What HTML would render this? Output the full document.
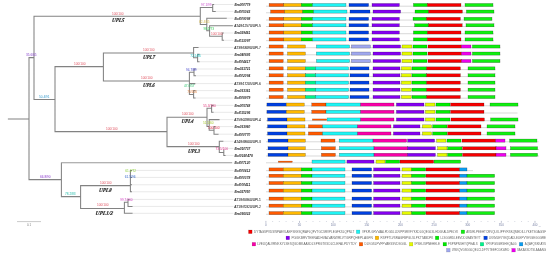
<!DOCTYPE html><html><head><meta charset="utf-8"><style>html,body{margin:0;padding:0;background:#fff;width:550px;height:255px;overflow:hidden}svg{display:block;will-change:transform}</style></head><body>
<svg width="550" height="255" viewBox="0 0 550 255">
<rect width="550" height="255" fill="#fff"/>
<g stroke="#e9e9e9" stroke-width="1.0">
<line x1="213.6" y1="4.5" x2="233.4" y2="4.5"/>
<line x1="215.2" y1="11.4" x2="233.4" y2="11.4"/>
<line x1="226.2" y1="18.2" x2="233.4" y2="18.2"/>
<line x1="232.3" y1="25.7" x2="233.4" y2="25.7"/>
<line x1="223.2" y1="33.0" x2="233.4" y2="33.0"/>
<line x1="223.4" y1="40.3" x2="233.4" y2="40.3"/>
<line x1="198" y1="47.4" x2="233.4" y2="47.4"/>
<line x1="199" y1="54.35" x2="233.4" y2="54.35"/>
<line x1="199" y1="61.75" x2="233.4" y2="61.75"/>
<line x1="195" y1="69.0" x2="233.4" y2="69.0"/>
<line x1="195.5" y1="75.8" x2="233.4" y2="75.8"/>
<line x1="194.8" y1="83.6" x2="233.4" y2="83.6"/>
<line x1="195" y1="90.6" x2="233.4" y2="90.6"/>
<line x1="195" y1="98.0" x2="233.4" y2="98.0"/>
<line x1="213" y1="105.35" x2="233.4" y2="105.35"/>
<line x1="213" y1="112.3" x2="233.4" y2="112.3"/>
<line x1="219" y1="119.6" x2="233.4" y2="119.6"/>
<line x1="217.5" y1="126.6" x2="233.4" y2="126.6"/>
<line x1="218" y1="134.2" x2="233.4" y2="134.2"/>
<line x1="222.8" y1="141.3" x2="233.4" y2="141.3"/>
<line x1="225" y1="148.4" x2="233.4" y2="148.4"/>
<line x1="225" y1="155.4" x2="233.4" y2="155.4"/>
<line x1="232" y1="162.8" x2="233.4" y2="162.8"/>
<line x1="131.5" y1="170.4" x2="233.4" y2="170.4"/>
<line x1="131.5" y1="177.4" x2="233.4" y2="177.4"/>
<line x1="131.5" y1="184.8" x2="233.4" y2="184.8"/>
<line x1="131.5" y1="191.8" x2="233.4" y2="191.8"/>
<line x1="129" y1="199.4" x2="233.4" y2="199.4"/>
<line x1="132" y1="206.4" x2="233.4" y2="206.4"/>
<line x1="132" y1="213.3" x2="233.4" y2="213.3"/>
</g>
<g stroke="#828282" stroke-width="1.05" stroke-linecap="square" fill="none">
<path d="M8.40 119.00L29.00 119.00M29.00 57.60L29.00 179.60M29.00 57.60L34.00 57.60M34.00 16.30L34.00 99.40M34.00 16.30L200.30 16.30M34.00 99.40L55.00 99.40M55.00 66.60L55.00 131.60M55.00 66.60L103.40 66.60M103.40 53.00L103.40 81.00M103.40 53.00L193.60 53.00M103.40 81.00L189.40 81.00M55.00 131.60L167.00 131.60M167.00 117.20L167.00 146.80M167.00 117.20L207.00 117.20M167.00 146.60L219.30 146.60M29.00 179.60L61.40 179.60M61.40 163.00L61.40 196.60M61.40 196.60L80.60 196.60M80.60 185.60L80.60 208.40M80.60 185.60L130.40 185.60M80.60 208.40L124.40 208.40M200.30 7.40L200.30 24.50M200.30 7.40L212.70 7.40M212.70 4.50L212.70 11.40M212.70 4.50L213.60 4.50M212.70 11.40L215.20 11.40M200.30 24.50L206.80 24.50M206.80 18.20L206.80 30.80M206.80 18.20L226.20 18.20M206.80 30.80L209.60 30.80M209.60 25.70L209.60 36.30M209.60 25.70L232.30 25.70M209.60 36.30L222.20 36.30M222.20 33.00L222.20 40.30M222.20 33.00L223.20 33.00M222.20 40.30L223.40 40.30M193.60 47.40L193.60 57.80M193.60 47.40L198.00 47.40M193.60 57.80L197.60 57.80M197.60 54.35L197.60 61.75M197.60 54.35L199.00 54.35M197.60 61.75L199.00 61.75M189.40 72.20L189.40 94.40M189.40 72.20L194.00 72.20M194.00 69.00L194.00 75.80M194.00 69.00L195.00 69.00M194.00 75.80L195.50 75.80M189.40 83.60L194.80 83.60M189.40 94.40L193.60 94.40M193.60 90.60L193.60 98.00M193.60 90.60L195.00 90.60M193.60 98.00L195.00 98.00M207.00 108.20L207.00 126.50M207.00 108.20L211.60 108.20M211.60 105.35L211.60 112.30M211.60 105.35L213.00 105.35M211.60 112.30L213.00 112.30M207.00 126.50L209.20 126.50M209.20 119.60L209.20 130.20M209.20 119.60L219.00 119.60M209.20 130.20L214.00 130.20M214.00 126.60L214.00 134.20M214.00 126.60L215.00 126.60M214.00 134.20L218.00 134.20M219.30 141.30L219.30 152.50M219.30 141.30L222.80 141.30M219.30 152.50L223.80 152.50M223.80 150.00L223.80 155.40M223.80 155.40L225.00 155.40M130.40 170.40L130.40 191.80M130.40 170.40L131.50 170.40M130.40 177.40L131.50 177.40M130.40 184.80L131.50 184.80M130.40 191.80L131.50 191.80M124.40 202.20L124.40 213.30M124.40 202.20L128.00 202.20M128.00 199.40L128.00 206.40M128.00 199.40L129.00 199.40M128.00 206.40L132.00 206.40M124.40 213.30L132.00 213.30"/>
</g>
<line x1="61.4" y1="162.8" x2="232" y2="162.8" stroke="#999" stroke-width="1.1"/>
<line x1="17" y1="221.6" x2="41" y2="221.6" stroke="#bbb" stroke-width="0.8"/>
<text x="29" y="225.8" font-family="Liberation Sans, sans-serif" font-size="2.8" fill="#777" text-anchor="middle">0.1</text>
<g font-family="Liberation Serif, serif" font-weight="bold" font-style="italic" font-size="5.6" fill="#222" stroke="#222" stroke-width="0.15">
<text transform="translate(111.8,22.0) skewX(-10)" x="0" y="0" textLength="12.2" lengthAdjust="spacingAndGlyphs">UPL5</text>
<text transform="translate(142.8,58.9) skewX(-10)" x="0" y="0" textLength="12" lengthAdjust="spacingAndGlyphs">UPL7</text>
<text transform="translate(142.8,86.9) skewX(-10)" x="0" y="0" textLength="11.5" lengthAdjust="spacingAndGlyphs">UPL6</text>
<text transform="translate(181.3,123.3) skewX(-10)" x="0" y="0" textLength="12" lengthAdjust="spacingAndGlyphs">UPL4</text>
<text transform="translate(187.8,152.9) skewX(-10)" x="0" y="0" textLength="12" lengthAdjust="spacingAndGlyphs">UPL3</text>
<text transform="translate(98.8,191.9) skewX(-10)" x="0" y="0" textLength="12.5" lengthAdjust="spacingAndGlyphs">UPL8</text>
<text transform="translate(95.3,214.9) skewX(-10)" x="0" y="0" textLength="17.5" lengthAdjust="spacingAndGlyphs">UPL1/2</text>
</g>
<g font-family="Liberation Sans, sans-serif" font-size="3.2">
<text x="112" y="14.75" fill="#e0505e">100/100</text>
<text x="143" y="51.15" fill="#e0505e">100/100</text>
<text x="141" y="78.75" fill="#e0505e">100/100</text>
<text x="182" y="115.25" fill="#e0505e">100/100</text>
<text x="188" y="144.75" fill="#e0505e">100/100</text>
<text x="100" y="184.15" fill="#e0505e">100/100</text>
<text x="97" y="206.35" fill="#e0505e">100/100</text>
<text x="74" y="65.15" fill="#e0505e">100/100</text>
<text x="106" y="130.35" fill="#e0505e">100/100</text>
<text x="201" y="6.05" fill="#c84ccc">97.1/99</text>
<text x="199" y="23.45" fill="#d8bc50">62.4/65</text>
<text x="203.4" y="29.55" fill="#33cc55">98.1/73</text>
<text x="211" y="34.85" fill="#e0505e">100/100</text>
<text x="26" y="56.15" fill="#8844cc">35.6/65</text>
<text x="39" y="97.75" fill="#3399cc">50.4/91</text>
<text x="190.2" y="56.75" fill="#22c4c4">72.1/86</text>
<text x="186" y="70.75" fill="#4444cc">94.7/89</text>
<text x="184" y="87.15" fill="#2cc46c">47.0/57</text>
<text x="187.2" y="92.55" fill="#e08040">70/100</text>
<text x="203.3" y="107.15" fill="#dd3377">55.3/100</text>
<text x="203" y="123.75" fill="#aacc33">51.5/60</text>
<text x="208" y="128.75" fill="#e0304a">100/100</text>
<text x="215.6" y="150.15" fill="#dd3388">73.5/100</text>
<text x="40" y="178.15" fill="#8833cc">66.8/90</text>
<text x="65" y="195.15" fill="#22bbaa">78.2/83</text>
<text x="125.3" y="172.45" fill="#88cc33">61.2/72</text>
<text x="124.8" y="177.55" fill="#3366cc">61.5/96</text>
<text x="120.2" y="201.35" fill="#d040c0">99.7/100</text>
</g>
<g>
<line x1="266" y1="6.20" x2="494" y2="6.20" stroke="#c8c8c8" stroke-width="0.7"/>
<rect x="269.1" y="3.45" width="14.60" height="3.1" fill="#ff5a00" stroke="rgba(0,0,0,0.55)" stroke-width="0.35"/>
<rect x="283.7" y="3.45" width="17.60" height="3.1" fill="#ffb800" stroke="rgba(0,0,0,0.55)" stroke-width="0.35"/>
<rect x="301.3" y="3.45" width="11.20" height="3.1" fill="#00e800" stroke="rgba(0,0,0,0.55)" stroke-width="0.35"/>
<rect x="312.5" y="3.45" width="33.50" height="3.1" fill="#1ef4f4" stroke="rgba(0,0,0,0.55)" stroke-width="0.35"/>
<rect x="349" y="3.45" width="19.60" height="3.1" fill="#0040e0" stroke="rgba(0,0,0,0.55)" stroke-width="0.35"/>
<rect x="372" y="3.45" width="27.40" height="3.1" fill="#8400f0" stroke="rgba(0,0,0,0.55)" stroke-width="0.35"/>
<rect x="413.4" y="3.45" width="14.00" height="3.1" fill="#00ee00" stroke="rgba(0,0,0,0.55)" stroke-width="0.35"/>
<rect x="427.4" y="3.45" width="33.60" height="3.1" fill="#f50000" stroke="rgba(0,0,0,0.55)" stroke-width="0.35"/>
<rect x="465" y="3.45" width="28.00" height="3.1" fill="#11ee11" stroke="rgba(0,0,0,0.55)" stroke-width="0.35"/>
<line x1="266" y1="12.75" x2="494.5" y2="12.75" stroke="#c8c8c8" stroke-width="0.7"/>
<rect x="270.6" y="10.00" width="14.00" height="3.1" fill="#ff5a00" stroke="rgba(0,0,0,0.55)" stroke-width="0.35"/>
<rect x="284.6" y="10.00" width="18.00" height="3.1" fill="#ffb800" stroke="rgba(0,0,0,0.55)" stroke-width="0.35"/>
<rect x="302.6" y="10.00" width="11.00" height="3.1" fill="#00e800" stroke="rgba(0,0,0,0.55)" stroke-width="0.35"/>
<rect x="313.6" y="10.00" width="33.40" height="3.1" fill="#1ef4f4" stroke="rgba(0,0,0,0.55)" stroke-width="0.35"/>
<rect x="350" y="10.00" width="20.00" height="3.1" fill="#0040e0" stroke="rgba(0,0,0,0.55)" stroke-width="0.35"/>
<rect x="373" y="10.00" width="27.60" height="3.1" fill="#8400f0" stroke="rgba(0,0,0,0.55)" stroke-width="0.35"/>
<rect x="415" y="10.00" width="13.60" height="3.1" fill="#00ee00" stroke="rgba(0,0,0,0.55)" stroke-width="0.35"/>
<rect x="428.6" y="10.00" width="33.80" height="3.1" fill="#f50000" stroke="rgba(0,0,0,0.55)" stroke-width="0.35"/>
<rect x="466.4" y="10.00" width="27.60" height="3.1" fill="#11ee11" stroke="rgba(0,0,0,0.55)" stroke-width="0.35"/>
<line x1="266" y1="20.05" x2="492.5" y2="20.05" stroke="#c8c8c8" stroke-width="0.7"/>
<rect x="269.1" y="17.30" width="14.60" height="3.1" fill="#ff5a00" stroke="rgba(0,0,0,0.55)" stroke-width="0.35"/>
<rect x="283.7" y="17.30" width="17.60" height="3.1" fill="#ffb800" stroke="rgba(0,0,0,0.55)" stroke-width="0.35"/>
<rect x="301.3" y="17.30" width="11.20" height="3.1" fill="#00e800" stroke="rgba(0,0,0,0.55)" stroke-width="0.35"/>
<rect x="312.5" y="17.30" width="33.50" height="3.1" fill="#1ef4f4" stroke="rgba(0,0,0,0.55)" stroke-width="0.35"/>
<rect x="349" y="17.30" width="19.60" height="3.1" fill="#0040e0" stroke="rgba(0,0,0,0.55)" stroke-width="0.35"/>
<rect x="372" y="17.30" width="27.40" height="3.1" fill="#8400f0" stroke="rgba(0,0,0,0.55)" stroke-width="0.35"/>
<rect x="413" y="17.30" width="13.60" height="3.1" fill="#00ee00" stroke="rgba(0,0,0,0.55)" stroke-width="0.35"/>
<rect x="426.6" y="17.30" width="33.80" height="3.1" fill="#f50000" stroke="rgba(0,0,0,0.55)" stroke-width="0.35"/>
<rect x="464" y="17.30" width="28.00" height="3.1" fill="#11ee11" stroke="rgba(0,0,0,0.55)" stroke-width="0.35"/>
<line x1="266" y1="26.50" x2="494.5" y2="26.50" stroke="#c8c8c8" stroke-width="0.7"/>
<rect x="269.1" y="23.75" width="14.60" height="3.1" fill="#ff5a00" stroke="rgba(0,0,0,0.55)" stroke-width="0.35"/>
<rect x="283.7" y="23.75" width="17.60" height="3.1" fill="#ffb800" stroke="rgba(0,0,0,0.55)" stroke-width="0.35"/>
<rect x="301.3" y="23.75" width="11.20" height="3.1" fill="#00e800" stroke="rgba(0,0,0,0.55)" stroke-width="0.35"/>
<rect x="312.5" y="23.75" width="33.50" height="3.1" fill="#1ef4f4" stroke="rgba(0,0,0,0.55)" stroke-width="0.35"/>
<rect x="349" y="23.75" width="19.60" height="3.1" fill="#0040e0" stroke="rgba(0,0,0,0.55)" stroke-width="0.35"/>
<rect x="372" y="23.75" width="27.40" height="3.1" fill="#8400f0" stroke="rgba(0,0,0,0.55)" stroke-width="0.35"/>
<rect x="414.6" y="23.75" width="14.00" height="3.1" fill="#00ee00" stroke="rgba(0,0,0,0.55)" stroke-width="0.35"/>
<rect x="428.6" y="23.75" width="33.60" height="3.1" fill="#f50000" stroke="rgba(0,0,0,0.55)" stroke-width="0.35"/>
<rect x="466" y="23.75" width="28.00" height="3.1" fill="#11ee11" stroke="rgba(0,0,0,0.55)" stroke-width="0.35"/>
<line x1="266" y1="33.70" x2="494" y2="33.70" stroke="#c8c8c8" stroke-width="0.7"/>
<rect x="269.1" y="30.95" width="14.60" height="3.1" fill="#ff5a00" stroke="rgba(0,0,0,0.55)" stroke-width="0.35"/>
<rect x="283.7" y="30.95" width="17.60" height="3.1" fill="#ffb800" stroke="rgba(0,0,0,0.55)" stroke-width="0.35"/>
<rect x="301.3" y="30.95" width="11.20" height="3.1" fill="#00e800" stroke="rgba(0,0,0,0.55)" stroke-width="0.35"/>
<rect x="312.5" y="30.95" width="33.50" height="3.1" fill="#1ef4f4" stroke="rgba(0,0,0,0.55)" stroke-width="0.35"/>
<rect x="349" y="30.95" width="19.60" height="3.1" fill="#0040e0" stroke="rgba(0,0,0,0.55)" stroke-width="0.35"/>
<rect x="372" y="30.95" width="27.40" height="3.1" fill="#8400f0" stroke="rgba(0,0,0,0.55)" stroke-width="0.35"/>
<rect x="413.4" y="30.95" width="14.00" height="3.1" fill="#00ee00" stroke="rgba(0,0,0,0.55)" stroke-width="0.35"/>
<rect x="427.4" y="30.95" width="33.60" height="3.1" fill="#f50000" stroke="rgba(0,0,0,0.55)" stroke-width="0.35"/>
<rect x="465" y="30.95" width="28.00" height="3.1" fill="#11ee11" stroke="rgba(0,0,0,0.55)" stroke-width="0.35"/>
<line x1="266" y1="40.65" x2="494" y2="40.65" stroke="#c8c8c8" stroke-width="0.7"/>
<rect x="269.1" y="37.90" width="14.60" height="3.1" fill="#ff5a00" stroke="rgba(0,0,0,0.55)" stroke-width="0.35"/>
<rect x="283.7" y="37.90" width="17.60" height="3.1" fill="#ffb800" stroke="rgba(0,0,0,0.55)" stroke-width="0.35"/>
<rect x="301.3" y="37.90" width="11.20" height="3.1" fill="#00e800" stroke="rgba(0,0,0,0.55)" stroke-width="0.35"/>
<rect x="312.5" y="37.90" width="33.50" height="3.1" fill="#1ef4f4" stroke="rgba(0,0,0,0.55)" stroke-width="0.35"/>
<rect x="349" y="37.90" width="19.60" height="3.1" fill="#0040e0" stroke="rgba(0,0,0,0.55)" stroke-width="0.35"/>
<rect x="372" y="37.90" width="27.40" height="3.1" fill="#8400f0" stroke="rgba(0,0,0,0.55)" stroke-width="0.35"/>
<rect x="413.4" y="37.90" width="14.00" height="3.1" fill="#00ee00" stroke="rgba(0,0,0,0.55)" stroke-width="0.35"/>
<rect x="427.4" y="37.90" width="33.60" height="3.1" fill="#f50000" stroke="rgba(0,0,0,0.55)" stroke-width="0.35"/>
<rect x="465" y="37.90" width="28.00" height="3.1" fill="#11ee11" stroke="rgba(0,0,0,0.55)" stroke-width="0.35"/>
<line x1="266" y1="47.70" x2="500.5" y2="47.70" stroke="#c8c8c8" stroke-width="0.7"/>
<rect x="269.1" y="44.95" width="14.10" height="3.1" fill="#ff5a00" stroke="rgba(0,0,0,0.55)" stroke-width="0.35"/>
<rect x="287.5" y="44.95" width="17.90" height="3.1" fill="#ffb800" stroke="rgba(0,0,0,0.55)" stroke-width="0.35"/>
<rect x="316.4" y="44.95" width="33.20" height="3.1" fill="#1ef4f4" stroke="rgba(0,0,0,0.55)" stroke-width="0.35"/>
<rect x="351.4" y="44.95" width="19.00" height="3.1" fill="#a0a8ee" stroke="rgba(0,0,0,0.55)" stroke-width="0.35"/>
<rect x="373" y="44.95" width="27.60" height="3.1" fill="#8400f0" stroke="rgba(0,0,0,0.55)" stroke-width="0.35"/>
<rect x="402" y="44.95" width="10.00" height="3.1" fill="#e4fa00" stroke="rgba(0,0,0,0.55)" stroke-width="0.35"/>
<rect x="413" y="44.95" width="14.00" height="3.1" fill="#00ee00" stroke="rgba(0,0,0,0.55)" stroke-width="0.35"/>
<rect x="428" y="44.95" width="33.50" height="3.1" fill="#f50000" stroke="rgba(0,0,0,0.55)" stroke-width="0.35"/>
<rect x="461.5" y="44.95" width="9.50" height="3.1" fill="#ee00ee" stroke="rgba(0,0,0,0.55)" stroke-width="0.35"/>
<rect x="472.4" y="44.95" width="27.60" height="3.1" fill="#11ee11" stroke="rgba(0,0,0,0.55)" stroke-width="0.35"/>
<line x1="266" y1="54.75" x2="500.5" y2="54.75" stroke="#c8c8c8" stroke-width="0.7"/>
<rect x="269.1" y="52.00" width="14.10" height="3.1" fill="#ff5a00" stroke="rgba(0,0,0,0.55)" stroke-width="0.35"/>
<rect x="287.5" y="52.00" width="17.90" height="3.1" fill="#ffb800" stroke="rgba(0,0,0,0.55)" stroke-width="0.35"/>
<rect x="316.4" y="52.00" width="33.20" height="3.1" fill="#1ef4f4" stroke="rgba(0,0,0,0.55)" stroke-width="0.35"/>
<rect x="351.4" y="52.00" width="19.00" height="3.1" fill="#a0a8ee" stroke="rgba(0,0,0,0.55)" stroke-width="0.35"/>
<rect x="373" y="52.00" width="27.60" height="3.1" fill="#8400f0" stroke="rgba(0,0,0,0.55)" stroke-width="0.35"/>
<rect x="402" y="52.00" width="10.00" height="3.1" fill="#e4fa00" stroke="rgba(0,0,0,0.55)" stroke-width="0.35"/>
<rect x="413" y="52.00" width="14.00" height="3.1" fill="#00ee00" stroke="rgba(0,0,0,0.55)" stroke-width="0.35"/>
<rect x="428" y="52.00" width="33.50" height="3.1" fill="#f50000" stroke="rgba(0,0,0,0.55)" stroke-width="0.35"/>
<rect x="461.5" y="52.00" width="9.50" height="3.1" fill="#ee00ee" stroke="rgba(0,0,0,0.55)" stroke-width="0.35"/>
<rect x="472.4" y="52.00" width="27.60" height="3.1" fill="#11ee11" stroke="rgba(0,0,0,0.55)" stroke-width="0.35"/>
<line x1="266" y1="62.20" x2="500.5" y2="62.20" stroke="#c8c8c8" stroke-width="0.7"/>
<rect x="269.1" y="59.45" width="14.10" height="3.1" fill="#ff5a00" stroke="rgba(0,0,0,0.55)" stroke-width="0.35"/>
<rect x="287.5" y="59.45" width="17.90" height="3.1" fill="#ffb800" stroke="rgba(0,0,0,0.55)" stroke-width="0.35"/>
<rect x="316.4" y="59.45" width="33.20" height="3.1" fill="#1ef4f4" stroke="rgba(0,0,0,0.55)" stroke-width="0.35"/>
<rect x="351.4" y="59.45" width="19.00" height="3.1" fill="#a0a8ee" stroke="rgba(0,0,0,0.55)" stroke-width="0.35"/>
<rect x="373" y="59.45" width="27.60" height="3.1" fill="#8400f0" stroke="rgba(0,0,0,0.55)" stroke-width="0.35"/>
<rect x="402" y="59.45" width="10.00" height="3.1" fill="#e4fa00" stroke="rgba(0,0,0,0.55)" stroke-width="0.35"/>
<rect x="413" y="59.45" width="14.00" height="3.1" fill="#00ee00" stroke="rgba(0,0,0,0.55)" stroke-width="0.35"/>
<rect x="428" y="59.45" width="33.50" height="3.1" fill="#f50000" stroke="rgba(0,0,0,0.55)" stroke-width="0.35"/>
<rect x="461.5" y="59.45" width="9.50" height="3.1" fill="#ee00ee" stroke="rgba(0,0,0,0.55)" stroke-width="0.35"/>
<rect x="472.4" y="59.45" width="27.60" height="3.1" fill="#11ee11" stroke="rgba(0,0,0,0.55)" stroke-width="0.35"/>
<line x1="266" y1="69.60" x2="495.5" y2="69.60" stroke="#c8c8c8" stroke-width="0.7"/>
<rect x="269.1" y="66.85" width="14.10" height="3.1" fill="#ff5a00" stroke="rgba(0,0,0,0.55)" stroke-width="0.35"/>
<rect x="287.5" y="66.85" width="17.90" height="3.1" fill="#ffb800" stroke="rgba(0,0,0,0.55)" stroke-width="0.35"/>
<rect x="305.4" y="66.85" width="10.20" height="3.1" fill="#00f48c" stroke="rgba(0,0,0,0.55)" stroke-width="0.35"/>
<rect x="315.6" y="66.85" width="33.00" height="3.1" fill="#1ef4f4" stroke="rgba(0,0,0,0.55)" stroke-width="0.35"/>
<rect x="350" y="66.85" width="19.00" height="3.1" fill="#0040e0" stroke="rgba(0,0,0,0.55)" stroke-width="0.35"/>
<rect x="373" y="66.85" width="27.00" height="3.1" fill="#8400f0" stroke="rgba(0,0,0,0.55)" stroke-width="0.35"/>
<rect x="401.4" y="66.85" width="9.80" height="3.1" fill="#e4fa00" stroke="rgba(0,0,0,0.55)" stroke-width="0.35"/>
<rect x="412" y="66.85" width="14.60" height="3.1" fill="#00ee00" stroke="rgba(0,0,0,0.55)" stroke-width="0.35"/>
<rect x="426.6" y="66.85" width="33.80" height="3.1" fill="#f50000" stroke="rgba(0,0,0,0.55)" stroke-width="0.35"/>
<rect x="468" y="66.85" width="27.00" height="3.1" fill="#11ee11" stroke="rgba(0,0,0,0.55)" stroke-width="0.35"/>
<line x1="266" y1="76.55" x2="495.5" y2="76.55" stroke="#c8c8c8" stroke-width="0.7"/>
<rect x="269.1" y="73.80" width="14.10" height="3.1" fill="#ff5a00" stroke="rgba(0,0,0,0.55)" stroke-width="0.35"/>
<rect x="287.5" y="73.80" width="17.90" height="3.1" fill="#ffb800" stroke="rgba(0,0,0,0.55)" stroke-width="0.35"/>
<rect x="305.4" y="73.80" width="10.20" height="3.1" fill="#00f48c" stroke="rgba(0,0,0,0.55)" stroke-width="0.35"/>
<rect x="315.6" y="73.80" width="33.00" height="3.1" fill="#1ef4f4" stroke="rgba(0,0,0,0.55)" stroke-width="0.35"/>
<rect x="350" y="73.80" width="19.00" height="3.1" fill="#0040e0" stroke="rgba(0,0,0,0.55)" stroke-width="0.35"/>
<rect x="373" y="73.80" width="27.00" height="3.1" fill="#8400f0" stroke="rgba(0,0,0,0.55)" stroke-width="0.35"/>
<rect x="401.4" y="73.80" width="9.80" height="3.1" fill="#e4fa00" stroke="rgba(0,0,0,0.55)" stroke-width="0.35"/>
<rect x="412" y="73.80" width="14.60" height="3.1" fill="#00ee00" stroke="rgba(0,0,0,0.55)" stroke-width="0.35"/>
<rect x="426.6" y="73.80" width="33.80" height="3.1" fill="#f50000" stroke="rgba(0,0,0,0.55)" stroke-width="0.35"/>
<rect x="468" y="73.80" width="27.00" height="3.1" fill="#11ee11" stroke="rgba(0,0,0,0.55)" stroke-width="0.35"/>
<line x1="266" y1="83.80" x2="495.5" y2="83.80" stroke="#c8c8c8" stroke-width="0.7"/>
<rect x="269.1" y="81.05" width="14.10" height="3.1" fill="#ff5a00" stroke="rgba(0,0,0,0.55)" stroke-width="0.35"/>
<rect x="287.5" y="81.05" width="17.90" height="3.1" fill="#ffb800" stroke="rgba(0,0,0,0.55)" stroke-width="0.35"/>
<rect x="305.4" y="81.05" width="10.20" height="3.1" fill="#00f48c" stroke="rgba(0,0,0,0.55)" stroke-width="0.35"/>
<rect x="315.6" y="81.05" width="33.00" height="3.1" fill="#1ef4f4" stroke="rgba(0,0,0,0.55)" stroke-width="0.35"/>
<rect x="350" y="81.05" width="19.00" height="3.1" fill="#0040e0" stroke="rgba(0,0,0,0.55)" stroke-width="0.35"/>
<rect x="373" y="81.05" width="27.00" height="3.1" fill="#8400f0" stroke="rgba(0,0,0,0.55)" stroke-width="0.35"/>
<rect x="401.4" y="81.05" width="9.80" height="3.1" fill="#e4fa00" stroke="rgba(0,0,0,0.55)" stroke-width="0.35"/>
<rect x="412" y="81.05" width="14.60" height="3.1" fill="#00ee00" stroke="rgba(0,0,0,0.55)" stroke-width="0.35"/>
<rect x="426.6" y="81.05" width="33.80" height="3.1" fill="#f50000" stroke="rgba(0,0,0,0.55)" stroke-width="0.35"/>
<rect x="468" y="81.05" width="27.00" height="3.1" fill="#11ee11" stroke="rgba(0,0,0,0.55)" stroke-width="0.35"/>
<line x1="266" y1="90.90" x2="495.5" y2="90.90" stroke="#c8c8c8" stroke-width="0.7"/>
<rect x="269.1" y="88.15" width="14.10" height="3.1" fill="#ff5a00" stroke="rgba(0,0,0,0.55)" stroke-width="0.35"/>
<rect x="287.5" y="88.15" width="17.90" height="3.1" fill="#ffb800" stroke="rgba(0,0,0,0.55)" stroke-width="0.35"/>
<rect x="305.4" y="88.15" width="10.20" height="3.1" fill="#00f48c" stroke="rgba(0,0,0,0.55)" stroke-width="0.35"/>
<rect x="315.6" y="88.15" width="33.00" height="3.1" fill="#1ef4f4" stroke="rgba(0,0,0,0.55)" stroke-width="0.35"/>
<rect x="350" y="88.15" width="19.00" height="3.1" fill="#0040e0" stroke="rgba(0,0,0,0.55)" stroke-width="0.35"/>
<rect x="373" y="88.15" width="27.00" height="3.1" fill="#8400f0" stroke="rgba(0,0,0,0.55)" stroke-width="0.35"/>
<rect x="401.4" y="88.15" width="9.80" height="3.1" fill="#e4fa00" stroke="rgba(0,0,0,0.55)" stroke-width="0.35"/>
<rect x="412" y="88.15" width="14.60" height="3.1" fill="#00ee00" stroke="rgba(0,0,0,0.55)" stroke-width="0.35"/>
<rect x="426.6" y="88.15" width="33.80" height="3.1" fill="#f50000" stroke="rgba(0,0,0,0.55)" stroke-width="0.35"/>
<rect x="468" y="88.15" width="27.00" height="3.1" fill="#11ee11" stroke="rgba(0,0,0,0.55)" stroke-width="0.35"/>
<line x1="266" y1="98.20" x2="495.5" y2="98.20" stroke="#c8c8c8" stroke-width="0.7"/>
<rect x="269.1" y="95.45" width="14.10" height="3.1" fill="#ff5a00" stroke="rgba(0,0,0,0.55)" stroke-width="0.35"/>
<rect x="287.5" y="95.45" width="17.90" height="3.1" fill="#ffb800" stroke="rgba(0,0,0,0.55)" stroke-width="0.35"/>
<rect x="305.4" y="95.45" width="10.20" height="3.1" fill="#00f48c" stroke="rgba(0,0,0,0.55)" stroke-width="0.35"/>
<rect x="315.6" y="95.45" width="33.00" height="3.1" fill="#1ef4f4" stroke="rgba(0,0,0,0.55)" stroke-width="0.35"/>
<rect x="350" y="95.45" width="19.00" height="3.1" fill="#0040e0" stroke="rgba(0,0,0,0.55)" stroke-width="0.35"/>
<rect x="373" y="95.45" width="27.00" height="3.1" fill="#8400f0" stroke="rgba(0,0,0,0.55)" stroke-width="0.35"/>
<rect x="401.4" y="95.45" width="9.80" height="3.1" fill="#e4fa00" stroke="rgba(0,0,0,0.55)" stroke-width="0.35"/>
<rect x="412" y="95.45" width="14.60" height="3.1" fill="#00ee00" stroke="rgba(0,0,0,0.55)" stroke-width="0.35"/>
<rect x="426.6" y="95.45" width="33.80" height="3.1" fill="#f50000" stroke="rgba(0,0,0,0.55)" stroke-width="0.35"/>
<rect x="468" y="95.45" width="27.00" height="3.1" fill="#11ee11" stroke="rgba(0,0,0,0.55)" stroke-width="0.35"/>
<line x1="266" y1="105.75" x2="518.5" y2="105.75" stroke="#c8c8c8" stroke-width="0.7"/>
<rect x="266.9" y="103.00" width="19.40" height="3.1" fill="#0040e0" stroke="rgba(0,0,0,0.55)" stroke-width="0.35"/>
<rect x="286.3" y="103.00" width="18.00" height="3.1" fill="#ffb800" stroke="rgba(0,0,0,0.55)" stroke-width="0.35"/>
<rect x="311.8" y="103.00" width="14.20" height="3.1" fill="#ff5a00" stroke="rgba(0,0,0,0.55)" stroke-width="0.35"/>
<rect x="326" y="103.00" width="34.60" height="3.1" fill="#1ef4f4" stroke="rgba(0,0,0,0.55)" stroke-width="0.35"/>
<rect x="360.6" y="103.00" width="33.40" height="3.1" fill="#f800a8" stroke="rgba(0,0,0,0.55)" stroke-width="0.35"/>
<rect x="396.4" y="103.00" width="27.60" height="3.1" fill="#8400f0" stroke="rgba(0,0,0,0.55)" stroke-width="0.35"/>
<rect x="425.4" y="103.00" width="9.60" height="3.1" fill="#e4fa00" stroke="rgba(0,0,0,0.55)" stroke-width="0.35"/>
<rect x="436" y="103.00" width="14.00" height="3.1" fill="#00ee00" stroke="rgba(0,0,0,0.55)" stroke-width="0.35"/>
<rect x="450.6" y="103.00" width="33.40" height="3.1" fill="#f50000" stroke="rgba(0,0,0,0.55)" stroke-width="0.35"/>
<rect x="490" y="103.00" width="28.00" height="3.1" fill="#11ee11" stroke="rgba(0,0,0,0.55)" stroke-width="0.35"/>
<line x1="266" y1="113.00" x2="517.5" y2="113.00" stroke="#c8c8c8" stroke-width="0.7"/>
<rect x="266.9" y="110.25" width="19.40" height="3.1" fill="#0040e0" stroke="rgba(0,0,0,0.55)" stroke-width="0.35"/>
<rect x="286.3" y="110.25" width="18.00" height="3.1" fill="#ffb800" stroke="rgba(0,0,0,0.55)" stroke-width="0.35"/>
<rect x="311.8" y="110.25" width="14.20" height="3.1" fill="#ff5a00" stroke="rgba(0,0,0,0.55)" stroke-width="0.35"/>
<rect x="326" y="110.25" width="34.60" height="3.1" fill="#1ef4f4" stroke="rgba(0,0,0,0.55)" stroke-width="0.35"/>
<rect x="360.6" y="110.25" width="33.40" height="3.1" fill="#f800a8" stroke="rgba(0,0,0,0.55)" stroke-width="0.35"/>
<rect x="396.4" y="110.25" width="27.60" height="3.1" fill="#8400f0" stroke="rgba(0,0,0,0.55)" stroke-width="0.35"/>
<rect x="425.4" y="110.25" width="9.60" height="3.1" fill="#e4fa00" stroke="rgba(0,0,0,0.55)" stroke-width="0.35"/>
<rect x="436" y="110.25" width="14.00" height="3.1" fill="#00ee00" stroke="rgba(0,0,0,0.55)" stroke-width="0.35"/>
<rect x="450.6" y="110.25" width="33.40" height="3.1" fill="#f50000" stroke="rgba(0,0,0,0.55)" stroke-width="0.35"/>
<line x1="266" y1="120.70" x2="518.5" y2="120.70" stroke="#c8c8c8" stroke-width="0.7"/>
<rect x="267.6" y="117.95" width="19.40" height="3.1" fill="#0040e0" stroke="rgba(0,0,0,0.55)" stroke-width="0.35"/>
<rect x="287" y="117.95" width="18.00" height="3.1" fill="#ffb800" stroke="rgba(0,0,0,0.55)" stroke-width="0.35"/>
<rect x="312.4" y="118.95" width="14.20" height="1.3" fill="#ff5a00" stroke="#7a3000" stroke-width="0.25"/>
<rect x="327" y="117.95" width="33.60" height="3.1" fill="#1ef4f4" stroke="rgba(0,0,0,0.55)" stroke-width="0.35"/>
<rect x="360.6" y="117.95" width="33.40" height="3.1" fill="#f800a8" stroke="rgba(0,0,0,0.55)" stroke-width="0.35"/>
<rect x="396.4" y="117.95" width="27.60" height="3.1" fill="#8400f0" stroke="rgba(0,0,0,0.55)" stroke-width="0.35"/>
<rect x="425.4" y="117.95" width="9.60" height="3.1" fill="#e4fa00" stroke="rgba(0,0,0,0.55)" stroke-width="0.35"/>
<rect x="436" y="117.95" width="14.00" height="3.1" fill="#00ee00" stroke="rgba(0,0,0,0.55)" stroke-width="0.35"/>
<rect x="451" y="117.95" width="33.40" height="3.1" fill="#f50000" stroke="rgba(0,0,0,0.55)" stroke-width="0.35"/>
<rect x="490.6" y="117.95" width="27.40" height="3.1" fill="#11ee11" stroke="rgba(0,0,0,0.55)" stroke-width="0.35"/>
<line x1="266" y1="127.60" x2="515.5" y2="127.60" stroke="#c8c8c8" stroke-width="0.7"/>
<rect x="267.6" y="124.85" width="19.40" height="3.1" fill="#0040e0" stroke="rgba(0,0,0,0.55)" stroke-width="0.35"/>
<rect x="287" y="124.85" width="18.00" height="3.1" fill="#ffb800" stroke="rgba(0,0,0,0.55)" stroke-width="0.35"/>
<rect x="308.4" y="124.85" width="14.20" height="3.1" fill="#ff5a00" stroke="rgba(0,0,0,0.55)" stroke-width="0.35"/>
<rect x="322.6" y="124.85" width="35.00" height="3.1" fill="#1ef4f4" stroke="rgba(0,0,0,0.55)" stroke-width="0.35"/>
<rect x="357.6" y="124.85" width="33.40" height="3.1" fill="#f800a8" stroke="rgba(0,0,0,0.55)" stroke-width="0.35"/>
<rect x="393.4" y="124.85" width="26.60" height="3.1" fill="#8400f0" stroke="rgba(0,0,0,0.55)" stroke-width="0.35"/>
<rect x="422.4" y="124.85" width="9.20" height="3.1" fill="#e4fa00" stroke="rgba(0,0,0,0.55)" stroke-width="0.35"/>
<rect x="432.6" y="124.85" width="14.40" height="3.1" fill="#00ee00" stroke="rgba(0,0,0,0.55)" stroke-width="0.35"/>
<rect x="447.6" y="124.85" width="33.40" height="3.1" fill="#f50000" stroke="rgba(0,0,0,0.55)" stroke-width="0.35"/>
<rect x="487" y="124.85" width="28.00" height="3.1" fill="#11ee11" stroke="rgba(0,0,0,0.55)" stroke-width="0.35"/>
<line x1="266" y1="134.70" x2="515.5" y2="134.70" stroke="#c8c8c8" stroke-width="0.7"/>
<rect x="267.6" y="131.95" width="19.40" height="3.1" fill="#0040e0" stroke="rgba(0,0,0,0.55)" stroke-width="0.35"/>
<rect x="287" y="131.95" width="18.00" height="3.1" fill="#ffb800" stroke="rgba(0,0,0,0.55)" stroke-width="0.35"/>
<rect x="308.4" y="131.95" width="14.20" height="3.1" fill="#ff5a00" stroke="rgba(0,0,0,0.55)" stroke-width="0.35"/>
<rect x="322.6" y="131.95" width="35.00" height="3.1" fill="#1ef4f4" stroke="rgba(0,0,0,0.55)" stroke-width="0.35"/>
<rect x="357.6" y="131.95" width="33.40" height="3.1" fill="#f800a8" stroke="rgba(0,0,0,0.55)" stroke-width="0.35"/>
<rect x="393.4" y="131.95" width="26.60" height="3.1" fill="#8400f0" stroke="rgba(0,0,0,0.55)" stroke-width="0.35"/>
<rect x="422.4" y="131.95" width="9.20" height="3.1" fill="#e4fa00" stroke="rgba(0,0,0,0.55)" stroke-width="0.35"/>
<rect x="432.6" y="131.95" width="14.40" height="3.1" fill="#00ee00" stroke="rgba(0,0,0,0.55)" stroke-width="0.35"/>
<rect x="447.6" y="131.95" width="33.40" height="3.1" fill="#f50000" stroke="rgba(0,0,0,0.55)" stroke-width="0.35"/>
<rect x="487" y="131.95" width="28.00" height="3.1" fill="#11ee11" stroke="rgba(0,0,0,0.55)" stroke-width="0.35"/>
<line x1="266" y1="141.80" x2="538.6" y2="141.80" stroke="#c8c8c8" stroke-width="0.7"/>
<rect x="268" y="139.05" width="20.00" height="3.1" fill="#0040e0" stroke="rgba(0,0,0,0.55)" stroke-width="0.35"/>
<rect x="288" y="139.05" width="17.40" height="3.1" fill="#ffb800" stroke="rgba(0,0,0,0.55)" stroke-width="0.35"/>
<rect x="321" y="139.05" width="14.00" height="3.1" fill="#ff5a00" stroke="rgba(0,0,0,0.55)" stroke-width="0.35"/>
<rect x="339.1" y="139.05" width="33.90" height="3.1" fill="#1ef4f4" stroke="rgba(0,0,0,0.55)" stroke-width="0.35"/>
<rect x="373" y="139.05" width="33.60" height="3.1" fill="#f800a8" stroke="rgba(0,0,0,0.55)" stroke-width="0.35"/>
<rect x="407.6" y="139.05" width="27.00" height="3.1" fill="#8400f0" stroke="rgba(0,0,0,0.55)" stroke-width="0.35"/>
<rect x="436.6" y="139.05" width="9.40" height="3.1" fill="#e4fa00" stroke="rgba(0,0,0,0.55)" stroke-width="0.35"/>
<rect x="447" y="139.05" width="14.00" height="3.1" fill="#00ee00" stroke="rgba(0,0,0,0.55)" stroke-width="0.35"/>
<rect x="462" y="139.05" width="33.60" height="3.1" fill="#f50000" stroke="rgba(0,0,0,0.55)" stroke-width="0.35"/>
<rect x="495.6" y="139.05" width="9.40" height="3.1" fill="#ee00ee" stroke="rgba(0,0,0,0.55)" stroke-width="0.35"/>
<rect x="509.6" y="139.05" width="27.40" height="3.1" fill="#11ee11" stroke="rgba(0,0,0,0.55)" stroke-width="0.35"/>
<line x1="266" y1="149.50" x2="539" y2="149.50" stroke="#c8c8c8" stroke-width="0.7"/>
<rect x="268" y="146.75" width="20.00" height="3.1" fill="#0040e0" stroke="rgba(0,0,0,0.55)" stroke-width="0.35"/>
<rect x="288" y="146.75" width="17.40" height="3.1" fill="#ffb800" stroke="rgba(0,0,0,0.55)" stroke-width="0.35"/>
<rect x="321.4" y="146.75" width="14.00" height="3.1" fill="#ff5a00" stroke="rgba(0,0,0,0.55)" stroke-width="0.35"/>
<rect x="339.4" y="146.75" width="34.60" height="3.1" fill="#1ef4f4" stroke="rgba(0,0,0,0.55)" stroke-width="0.35"/>
<rect x="374" y="146.75" width="33.60" height="3.1" fill="#f800a8" stroke="rgba(0,0,0,0.55)" stroke-width="0.35"/>
<rect x="407.6" y="146.75" width="27.80" height="3.1" fill="#8400f0" stroke="rgba(0,0,0,0.55)" stroke-width="0.35"/>
<rect x="437.6" y="146.75" width="9.40" height="3.1" fill="#e4fa00" stroke="rgba(0,0,0,0.55)" stroke-width="0.35"/>
<rect x="447.6" y="146.75" width="14.40" height="3.1" fill="#00ee00" stroke="rgba(0,0,0,0.55)" stroke-width="0.35"/>
<rect x="462.6" y="146.75" width="33.40" height="3.1" fill="#f50000" stroke="rgba(0,0,0,0.55)" stroke-width="0.35"/>
<rect x="496" y="146.75" width="10.00" height="3.1" fill="#ee00ee" stroke="rgba(0,0,0,0.55)" stroke-width="0.35"/>
<rect x="510.4" y="146.75" width="27.20" height="3.1" fill="#11ee11" stroke="rgba(0,0,0,0.55)" stroke-width="0.35"/>
<line x1="266" y1="156.00" x2="539" y2="156.00" stroke="#c8c8c8" stroke-width="0.7"/>
<rect x="268" y="153.25" width="20.00" height="3.1" fill="#0040e0" stroke="rgba(0,0,0,0.55)" stroke-width="0.35"/>
<rect x="288" y="153.25" width="17.40" height="3.1" fill="#ffb800" stroke="rgba(0,0,0,0.55)" stroke-width="0.35"/>
<rect x="321.4" y="153.25" width="14.00" height="3.1" fill="#ff5a00" stroke="rgba(0,0,0,0.55)" stroke-width="0.35"/>
<rect x="339.4" y="153.25" width="34.60" height="3.1" fill="#1ef4f4" stroke="rgba(0,0,0,0.55)" stroke-width="0.35"/>
<rect x="374" y="153.25" width="33.60" height="3.1" fill="#f800a8" stroke="rgba(0,0,0,0.55)" stroke-width="0.35"/>
<rect x="407.6" y="153.25" width="27.80" height="3.1" fill="#8400f0" stroke="rgba(0,0,0,0.55)" stroke-width="0.35"/>
<rect x="437.6" y="153.25" width="9.40" height="3.1" fill="#e4fa00" stroke="rgba(0,0,0,0.55)" stroke-width="0.35"/>
<rect x="447.6" y="153.25" width="14.40" height="3.1" fill="#00ee00" stroke="rgba(0,0,0,0.55)" stroke-width="0.35"/>
<rect x="462.6" y="153.25" width="33.40" height="3.1" fill="#f50000" stroke="rgba(0,0,0,0.55)" stroke-width="0.35"/>
<rect x="496" y="153.25" width="10.00" height="3.1" fill="#ee00ee" stroke="rgba(0,0,0,0.55)" stroke-width="0.35"/>
<rect x="510.4" y="153.25" width="27.20" height="3.1" fill="#11ee11" stroke="rgba(0,0,0,0.55)" stroke-width="0.35"/>
<line x1="266" y1="162.80" x2="461" y2="162.80" stroke="#c8c8c8" stroke-width="0.7"/>
<rect x="278.3" y="161.05" width="14.00" height="1.3" fill="#ff5a00" stroke="#7a3000" stroke-width="0.25"/>
<rect x="312" y="160.05" width="33.10" height="3.1" fill="#1ef4f4" stroke="rgba(0,0,0,0.55)" stroke-width="0.35"/>
<rect x="346.9" y="160.05" width="27.10" height="3.1" fill="#8400f0" stroke="rgba(0,0,0,0.55)" stroke-width="0.35"/>
<rect x="376" y="160.05" width="9.00" height="3.1" fill="#e4fa00" stroke="rgba(0,0,0,0.55)" stroke-width="0.35"/>
<rect x="385.6" y="160.05" width="14.00" height="3.1" fill="#00ee00" stroke="rgba(0,0,0,0.55)" stroke-width="0.35"/>
<rect x="400" y="160.05" width="33.60" height="3.1" fill="#f50000" stroke="rgba(0,0,0,0.55)" stroke-width="0.35"/>
<rect x="434" y="160.05" width="26.60" height="3.1" fill="#11ee11" stroke="rgba(0,0,0,0.55)" stroke-width="0.35"/>
<line x1="266" y1="170.65" x2="473" y2="170.65" stroke="#c8c8c8" stroke-width="0.7"/>
<rect x="269" y="167.90" width="14.20" height="3.1" fill="#ff5a00" stroke="rgba(0,0,0,0.55)" stroke-width="0.35"/>
<rect x="283.2" y="167.90" width="18.10" height="3.1" fill="#ffb800" stroke="rgba(0,0,0,0.55)" stroke-width="0.35"/>
<rect x="301.3" y="167.90" width="10.70" height="3.1" fill="#00e800" stroke="rgba(0,0,0,0.55)" stroke-width="0.35"/>
<rect x="312" y="167.90" width="33.00" height="3.1" fill="#1ef4f4" stroke="rgba(0,0,0,0.55)" stroke-width="0.35"/>
<rect x="352" y="167.90" width="19.60" height="3.1" fill="#0040e0" stroke="rgba(0,0,0,0.55)" stroke-width="0.35"/>
<rect x="373.6" y="167.90" width="26.40" height="3.1" fill="#8400f0" stroke="rgba(0,0,0,0.55)" stroke-width="0.35"/>
<rect x="402" y="167.90" width="9.60" height="3.1" fill="#e4fa00" stroke="rgba(0,0,0,0.55)" stroke-width="0.35"/>
<rect x="411.6" y="167.90" width="14.00" height="3.1" fill="#00ee00" stroke="rgba(0,0,0,0.55)" stroke-width="0.35"/>
<rect x="426" y="167.90" width="33.60" height="3.1" fill="#f50000" stroke="rgba(0,0,0,0.55)" stroke-width="0.35"/>
<rect x="459.6" y="167.90" width="7.40" height="3.1" fill="#0a9cf0" stroke="rgba(0,0,0,0.55)" stroke-width="0.35"/>
<line x1="266" y1="176.95" x2="495" y2="176.95" stroke="#c8c8c8" stroke-width="0.7"/>
<rect x="269" y="174.20" width="14.20" height="3.1" fill="#ff5a00" stroke="rgba(0,0,0,0.55)" stroke-width="0.35"/>
<rect x="283.2" y="174.20" width="18.10" height="3.1" fill="#ffb800" stroke="rgba(0,0,0,0.55)" stroke-width="0.35"/>
<rect x="301.3" y="174.20" width="10.70" height="3.1" fill="#00e800" stroke="rgba(0,0,0,0.55)" stroke-width="0.35"/>
<rect x="312" y="174.20" width="33.00" height="3.1" fill="#1ef4f4" stroke="rgba(0,0,0,0.55)" stroke-width="0.35"/>
<rect x="352" y="174.20" width="19.60" height="3.1" fill="#0040e0" stroke="rgba(0,0,0,0.55)" stroke-width="0.35"/>
<rect x="373.6" y="174.20" width="26.40" height="3.1" fill="#8400f0" stroke="rgba(0,0,0,0.55)" stroke-width="0.35"/>
<rect x="402" y="174.20" width="9.60" height="3.1" fill="#e4fa00" stroke="rgba(0,0,0,0.55)" stroke-width="0.35"/>
<rect x="411.6" y="174.20" width="14.00" height="3.1" fill="#00ee00" stroke="rgba(0,0,0,0.55)" stroke-width="0.35"/>
<rect x="426" y="174.20" width="33.60" height="3.1" fill="#f50000" stroke="rgba(0,0,0,0.55)" stroke-width="0.35"/>
<rect x="459.6" y="174.20" width="7.40" height="3.1" fill="#0a9cf0" stroke="rgba(0,0,0,0.55)" stroke-width="0.35"/>
<rect x="467" y="174.20" width="27.60" height="3.1" fill="#11ee11" stroke="rgba(0,0,0,0.55)" stroke-width="0.35"/>
<line x1="266" y1="184.20" x2="495" y2="184.20" stroke="#c8c8c8" stroke-width="0.7"/>
<rect x="269" y="181.45" width="14.20" height="3.1" fill="#ff5a00" stroke="rgba(0,0,0,0.55)" stroke-width="0.35"/>
<rect x="283.2" y="181.45" width="18.10" height="3.1" fill="#ffb800" stroke="rgba(0,0,0,0.55)" stroke-width="0.35"/>
<rect x="301.3" y="181.45" width="10.70" height="3.1" fill="#00e800" stroke="rgba(0,0,0,0.55)" stroke-width="0.35"/>
<rect x="312" y="181.45" width="33.00" height="3.1" fill="#1ef4f4" stroke="rgba(0,0,0,0.55)" stroke-width="0.35"/>
<rect x="352" y="181.45" width="19.60" height="3.1" fill="#0040e0" stroke="rgba(0,0,0,0.55)" stroke-width="0.35"/>
<rect x="373.6" y="181.45" width="26.40" height="3.1" fill="#8400f0" stroke="rgba(0,0,0,0.55)" stroke-width="0.35"/>
<rect x="402" y="181.45" width="9.60" height="3.1" fill="#e4fa00" stroke="rgba(0,0,0,0.55)" stroke-width="0.35"/>
<rect x="411.6" y="181.45" width="14.00" height="3.1" fill="#00ee00" stroke="rgba(0,0,0,0.55)" stroke-width="0.35"/>
<rect x="426" y="181.45" width="33.60" height="3.1" fill="#f50000" stroke="rgba(0,0,0,0.55)" stroke-width="0.35"/>
<rect x="459.6" y="181.45" width="7.40" height="3.1" fill="#0a9cf0" stroke="rgba(0,0,0,0.55)" stroke-width="0.35"/>
<rect x="467" y="181.45" width="27.60" height="3.1" fill="#11ee11" stroke="rgba(0,0,0,0.55)" stroke-width="0.35"/>
<line x1="266" y1="191.75" x2="495" y2="191.75" stroke="#c8c8c8" stroke-width="0.7"/>
<rect x="269" y="189.00" width="14.20" height="3.1" fill="#ff5a00" stroke="rgba(0,0,0,0.55)" stroke-width="0.35"/>
<rect x="283.2" y="189.00" width="18.10" height="3.1" fill="#ffb800" stroke="rgba(0,0,0,0.55)" stroke-width="0.35"/>
<rect x="301.3" y="189.00" width="10.70" height="3.1" fill="#00e800" stroke="rgba(0,0,0,0.55)" stroke-width="0.35"/>
<rect x="312" y="189.00" width="33.00" height="3.1" fill="#1ef4f4" stroke="rgba(0,0,0,0.55)" stroke-width="0.35"/>
<rect x="352" y="189.00" width="19.60" height="3.1" fill="#0040e0" stroke="rgba(0,0,0,0.55)" stroke-width="0.35"/>
<rect x="373.6" y="189.00" width="26.40" height="3.1" fill="#8400f0" stroke="rgba(0,0,0,0.55)" stroke-width="0.35"/>
<rect x="402" y="189.00" width="9.60" height="3.1" fill="#e4fa00" stroke="rgba(0,0,0,0.55)" stroke-width="0.35"/>
<rect x="411.6" y="189.00" width="14.00" height="3.1" fill="#00ee00" stroke="rgba(0,0,0,0.55)" stroke-width="0.35"/>
<rect x="426" y="189.00" width="33.60" height="3.1" fill="#f50000" stroke="rgba(0,0,0,0.55)" stroke-width="0.35"/>
<rect x="459.6" y="189.00" width="7.40" height="3.1" fill="#0a9cf0" stroke="rgba(0,0,0,0.55)" stroke-width="0.35"/>
<rect x="467" y="189.00" width="27.60" height="3.1" fill="#11ee11" stroke="rgba(0,0,0,0.55)" stroke-width="0.35"/>
<line x1="266" y1="199.80" x2="495" y2="199.80" stroke="#c8c8c8" stroke-width="0.7"/>
<rect x="269" y="197.05" width="14.20" height="3.1" fill="#ff5a00" stroke="rgba(0,0,0,0.55)" stroke-width="0.35"/>
<rect x="283.2" y="197.05" width="18.10" height="3.1" fill="#ffb800" stroke="rgba(0,0,0,0.55)" stroke-width="0.35"/>
<rect x="301.3" y="197.05" width="10.70" height="3.1" fill="#00e800" stroke="rgba(0,0,0,0.55)" stroke-width="0.35"/>
<rect x="312" y="197.05" width="33.00" height="3.1" fill="#1ef4f4" stroke="rgba(0,0,0,0.55)" stroke-width="0.35"/>
<rect x="352" y="197.05" width="19.60" height="3.1" fill="#0040e0" stroke="rgba(0,0,0,0.55)" stroke-width="0.35"/>
<rect x="373.6" y="197.05" width="26.40" height="3.1" fill="#8400f0" stroke="rgba(0,0,0,0.55)" stroke-width="0.35"/>
<rect x="402" y="197.05" width="9.60" height="3.1" fill="#e4fa00" stroke="rgba(0,0,0,0.55)" stroke-width="0.35"/>
<rect x="411.6" y="197.05" width="14.00" height="3.1" fill="#00ee00" stroke="rgba(0,0,0,0.55)" stroke-width="0.35"/>
<rect x="426" y="197.05" width="33.60" height="3.1" fill="#f50000" stroke="rgba(0,0,0,0.55)" stroke-width="0.35"/>
<rect x="459.6" y="197.05" width="7.40" height="3.1" fill="#0a9cf0" stroke="rgba(0,0,0,0.55)" stroke-width="0.35"/>
<rect x="467" y="197.05" width="27.60" height="3.1" fill="#11ee11" stroke="rgba(0,0,0,0.55)" stroke-width="0.35"/>
<line x1="266" y1="206.85" x2="495" y2="206.85" stroke="#c8c8c8" stroke-width="0.7"/>
<rect x="269" y="204.10" width="14.20" height="3.1" fill="#ff5a00" stroke="rgba(0,0,0,0.55)" stroke-width="0.35"/>
<rect x="283.2" y="204.10" width="18.10" height="3.1" fill="#ffb800" stroke="rgba(0,0,0,0.55)" stroke-width="0.35"/>
<rect x="301.3" y="204.10" width="10.70" height="3.1" fill="#00e800" stroke="rgba(0,0,0,0.55)" stroke-width="0.35"/>
<rect x="312" y="204.10" width="33.00" height="3.1" fill="#1ef4f4" stroke="rgba(0,0,0,0.55)" stroke-width="0.35"/>
<rect x="352" y="204.10" width="19.60" height="3.1" fill="#0040e0" stroke="rgba(0,0,0,0.55)" stroke-width="0.35"/>
<rect x="373.6" y="204.10" width="26.40" height="3.1" fill="#8400f0" stroke="rgba(0,0,0,0.55)" stroke-width="0.35"/>
<rect x="402" y="204.10" width="9.60" height="3.1" fill="#e4fa00" stroke="rgba(0,0,0,0.55)" stroke-width="0.35"/>
<rect x="411.6" y="204.10" width="14.00" height="3.1" fill="#00ee00" stroke="rgba(0,0,0,0.55)" stroke-width="0.35"/>
<rect x="426" y="204.10" width="33.60" height="3.1" fill="#f50000" stroke="rgba(0,0,0,0.55)" stroke-width="0.35"/>
<rect x="459.6" y="204.10" width="7.40" height="3.1" fill="#0a9cf0" stroke="rgba(0,0,0,0.55)" stroke-width="0.35"/>
<rect x="467" y="204.10" width="27.60" height="3.1" fill="#11ee11" stroke="rgba(0,0,0,0.55)" stroke-width="0.35"/>
<line x1="266" y1="214.30" x2="495" y2="214.30" stroke="#c8c8c8" stroke-width="0.7"/>
<rect x="269" y="211.55" width="14.20" height="3.1" fill="#ff5a00" stroke="rgba(0,0,0,0.55)" stroke-width="0.35"/>
<rect x="283.2" y="211.55" width="18.10" height="3.1" fill="#ffb800" stroke="rgba(0,0,0,0.55)" stroke-width="0.35"/>
<rect x="301.3" y="211.55" width="10.70" height="3.1" fill="#00e800" stroke="rgba(0,0,0,0.55)" stroke-width="0.35"/>
<rect x="312" y="211.55" width="33.00" height="3.1" fill="#1ef4f4" stroke="rgba(0,0,0,0.55)" stroke-width="0.35"/>
<rect x="352" y="211.55" width="19.60" height="3.1" fill="#0040e0" stroke="rgba(0,0,0,0.55)" stroke-width="0.35"/>
<rect x="373.6" y="211.55" width="26.40" height="3.1" fill="#8400f0" stroke="rgba(0,0,0,0.55)" stroke-width="0.35"/>
<rect x="402" y="211.55" width="9.60" height="3.1" fill="#e4fa00" stroke="rgba(0,0,0,0.55)" stroke-width="0.35"/>
<rect x="411.6" y="211.55" width="14.00" height="3.1" fill="#00ee00" stroke="rgba(0,0,0,0.55)" stroke-width="0.35"/>
<rect x="426" y="211.55" width="33.60" height="3.1" fill="#f50000" stroke="rgba(0,0,0,0.55)" stroke-width="0.35"/>
<rect x="459.6" y="211.55" width="7.40" height="3.1" fill="#0a9cf0" stroke="rgba(0,0,0,0.55)" stroke-width="0.35"/>
<rect x="467" y="211.55" width="27.60" height="3.1" fill="#11ee11" stroke="rgba(0,0,0,0.55)" stroke-width="0.35"/>
</g>
<g font-family="Liberation Sans, sans-serif" fill="#2a2a2a">
<text x="234.4" y="6" font-size="3.5" font-style="italic" font-weight="bold" textLength="15.8" lengthAdjust="spacingAndGlyphs">Bra000779</text>
<text x="234.4" y="13" font-size="3.5" font-style="italic" font-weight="bold" textLength="15.8" lengthAdjust="spacingAndGlyphs">Bol005043</text>
<text x="234.4" y="20" font-size="3.5" font-style="italic" font-weight="bold" textLength="15.8" lengthAdjust="spacingAndGlyphs">Bol009098</text>
<text x="234.3" y="27" font-size="3.5" fill="#1a1a1a" stroke="#333" stroke-width="0.05" textLength="26.6" lengthAdjust="spacingAndGlyphs">AT4G12570/UPL5</text>
<text x="234.4" y="34" font-size="3.5" font-style="italic" font-weight="bold" textLength="15.8" lengthAdjust="spacingAndGlyphs">Bra029461</text>
<text x="234.4" y="42" font-size="3.5" font-style="italic" font-weight="bold" textLength="15.8" lengthAdjust="spacingAndGlyphs">Bol013097</text>
<text x="234.3" y="49" font-size="3.5" fill="#1a1a1a" stroke="#333" stroke-width="0.05" textLength="26.6" lengthAdjust="spacingAndGlyphs">AT3G53090/UPL7</text>
<text x="234.4" y="56" font-size="3.5" font-style="italic" font-weight="bold" textLength="15.8" lengthAdjust="spacingAndGlyphs">Bra040695</text>
<text x="234.4" y="63" font-size="3.5" font-style="italic" font-weight="bold" textLength="15.8" lengthAdjust="spacingAndGlyphs">Bol004417</text>
<text x="234.4" y="70" font-size="3.5" font-style="italic" font-weight="bold" textLength="15.8" lengthAdjust="spacingAndGlyphs">Bra021721</text>
<text x="234.4" y="77" font-size="3.5" font-style="italic" font-weight="bold" textLength="15.8" lengthAdjust="spacingAndGlyphs">Bol002094</text>
<text x="234.3" y="85" font-size="3.5" fill="#1a1a1a" stroke="#333" stroke-width="0.05" textLength="26.6" lengthAdjust="spacingAndGlyphs">AT3G17205/UPL6</text>
<text x="234.4" y="92" font-size="3.5" font-style="italic" font-weight="bold" textLength="15.8" lengthAdjust="spacingAndGlyphs">Bra033361</text>
<text x="234.4" y="99" font-size="3.5" font-style="italic" font-weight="bold" textLength="15.8" lengthAdjust="spacingAndGlyphs">Bol008979</text>
<text x="234.4" y="107" font-size="3.5" font-style="italic" font-weight="bold" textLength="15.8" lengthAdjust="spacingAndGlyphs">Bra005748</text>
<text x="234.4" y="114" font-size="3.5" font-style="italic" font-weight="bold" textLength="15.8" lengthAdjust="spacingAndGlyphs">Bol015296</text>
<text x="234.3" y="121" font-size="3.5" fill="#1a1a1a" stroke="#333" stroke-width="0.05" textLength="26.6" lengthAdjust="spacingAndGlyphs">AT5G02880/UPL4</text>
<text x="234.4" y="128" font-size="3.5" font-style="italic" font-weight="bold" textLength="15.8" lengthAdjust="spacingAndGlyphs">Bra033960</text>
<text x="234.4" y="136" font-size="3.5" font-style="italic" font-weight="bold" textLength="15.8" lengthAdjust="spacingAndGlyphs">Bol000770</text>
<text x="234.3" y="143" font-size="3.5" fill="#1a1a1a" stroke="#333" stroke-width="0.05" textLength="26.6" lengthAdjust="spacingAndGlyphs">AT4G38600/UPL3</text>
<text x="234.4" y="150" font-size="3.5" font-style="italic" font-weight="bold" textLength="15.8" lengthAdjust="spacingAndGlyphs">Bra010737</text>
<text x="234.4" y="157" font-size="3.5" font-style="italic" font-weight="bold" textLength="18.4" lengthAdjust="spacingAndGlyphs">Bol0160478</text>
<text x="234.4" y="164" font-size="3.5" font-style="italic" font-weight="bold" textLength="15.8" lengthAdjust="spacingAndGlyphs">Bol007120</text>
<text x="234.4" y="172" font-size="3.5" font-style="italic" font-weight="bold" textLength="15.8" lengthAdjust="spacingAndGlyphs">Bol000412</text>
<text x="234.4" y="179" font-size="3.5" font-style="italic" font-weight="bold" textLength="15.8" lengthAdjust="spacingAndGlyphs">Bol000378</text>
<text x="234.4" y="186" font-size="3.5" font-style="italic" font-weight="bold" textLength="15.8" lengthAdjust="spacingAndGlyphs">Bol000411</text>
<text x="234.4" y="193" font-size="3.5" font-style="italic" font-weight="bold" textLength="15.8" lengthAdjust="spacingAndGlyphs">Bra027050</text>
<text x="234.3" y="201" font-size="3.5" fill="#1a1a1a" stroke="#333" stroke-width="0.05" textLength="26.6" lengthAdjust="spacingAndGlyphs">AT1G55860/UPL1</text>
<text x="234.3" y="208" font-size="3.5" fill="#1a1a1a" stroke="#333" stroke-width="0.05" textLength="26.6" lengthAdjust="spacingAndGlyphs">AT1G70320/UPL2</text>
<text x="234.4" y="215" font-size="3.5" font-style="italic" font-weight="bold" textLength="15.8" lengthAdjust="spacingAndGlyphs">Bra036022</text>
</g>
<g stroke="#8890a8" stroke-width="0.55">
<line x1="265.90" y1="220.9" x2="265.90" y2="222.8"/>
<line x1="272.63" y1="221.3" x2="272.63" y2="221.9"/>
<line x1="279.35" y1="221.3" x2="279.35" y2="221.9"/>
<line x1="286.08" y1="221.3" x2="286.08" y2="221.9"/>
<line x1="292.81" y1="221.3" x2="292.81" y2="221.9"/>
<line x1="299.53" y1="220.9" x2="299.53" y2="222.8"/>
<line x1="306.26" y1="221.3" x2="306.26" y2="221.9"/>
<line x1="312.99" y1="221.3" x2="312.99" y2="221.9"/>
<line x1="319.72" y1="221.3" x2="319.72" y2="221.9"/>
<line x1="326.44" y1="221.3" x2="326.44" y2="221.9"/>
<line x1="333.17" y1="220.9" x2="333.17" y2="222.8"/>
<line x1="339.90" y1="221.3" x2="339.90" y2="221.9"/>
<line x1="346.62" y1="221.3" x2="346.62" y2="221.9"/>
<line x1="353.35" y1="221.3" x2="353.35" y2="221.9"/>
<line x1="360.08" y1="221.3" x2="360.08" y2="221.9"/>
<line x1="366.80" y1="220.9" x2="366.80" y2="222.8"/>
<line x1="373.53" y1="221.3" x2="373.53" y2="221.9"/>
<line x1="380.26" y1="221.3" x2="380.26" y2="221.9"/>
<line x1="386.99" y1="221.3" x2="386.99" y2="221.9"/>
<line x1="393.71" y1="221.3" x2="393.71" y2="221.9"/>
<line x1="400.44" y1="220.9" x2="400.44" y2="222.8"/>
<line x1="407.17" y1="221.3" x2="407.17" y2="221.9"/>
<line x1="413.89" y1="221.3" x2="413.89" y2="221.9"/>
<line x1="420.62" y1="221.3" x2="420.62" y2="221.9"/>
<line x1="427.35" y1="221.3" x2="427.35" y2="221.9"/>
<line x1="434.07" y1="220.9" x2="434.07" y2="222.8"/>
<line x1="440.80" y1="221.3" x2="440.80" y2="221.9"/>
<line x1="447.53" y1="221.3" x2="447.53" y2="221.9"/>
<line x1="454.26" y1="221.3" x2="454.26" y2="221.9"/>
<line x1="460.98" y1="221.3" x2="460.98" y2="221.9"/>
<line x1="467.71" y1="220.9" x2="467.71" y2="222.8"/>
<line x1="474.44" y1="221.3" x2="474.44" y2="221.9"/>
<line x1="481.16" y1="221.3" x2="481.16" y2="221.9"/>
<line x1="487.89" y1="221.3" x2="487.89" y2="221.9"/>
<line x1="494.62" y1="221.3" x2="494.62" y2="221.9"/>
<line x1="501.35" y1="220.9" x2="501.35" y2="222.8"/>
<line x1="508.07" y1="221.3" x2="508.07" y2="221.9"/>
<line x1="514.80" y1="221.3" x2="514.80" y2="221.9"/>
<line x1="521.53" y1="221.3" x2="521.53" y2="221.9"/>
<line x1="528.25" y1="221.3" x2="528.25" y2="221.9"/>
<line x1="534.98" y1="220.9" x2="534.98" y2="222.8"/>
</g>
<g font-family="Liberation Sans, sans-serif" font-size="3.0" fill="#7880a4" text-anchor="middle">
<text x="265.90" y="225.6">0</text>
<text x="299.53" y="225.6">50</text>
<text x="333.17" y="225.6">100</text>
<text x="366.80" y="225.6">150</text>
<text x="400.44" y="225.6">200</text>
<text x="434.07" y="225.6">250</text>
<text x="467.71" y="225.6">300</text>
<text x="501.34" y="225.6">350</text>
<text x="534.98" y="225.6">400</text>
<text x="539.6" y="226.6" font-size="2.2" fill="#b8bccc">aa</text>
</g>
<g font-family="Liberation Sans, sans-serif" font-size="3.0" fill="#666">
<rect x="248.5" y="230.00" width="3.6" height="3.6" fill="#f50000" stroke="rgba(0,0,0,0.35)" stroke-width="0.3"/>
<text x="254" y="232.90" textLength="100.3" lengthAdjust="spacingAndGlyphs">DYTAGSPVDSWPAEVLAEFSKESQRAFLQFVTGCSRVPLEGFKSLQPNLT</text>
<rect x="356.3" y="230.00" width="3.6" height="3.6" fill="#1ef4f4" stroke="rgba(0,0,0,0.35)" stroke-width="0.3"/>
<text x="361.9" y="232.90" textLength="96.4" lengthAdjust="spacingAndGlyphs">VPKPLGRVVAALPDGDLLDVPPSRVFYKKDLGQEGLSLHDGKALDPELYK</text>
<rect x="461.1" y="230.00" width="3.6" height="3.6" fill="#11ee11" stroke="rgba(0,0,0,0.35)" stroke-width="0.3"/>
<text x="466.2" y="232.90" textLength="79.8" lengthAdjust="spacingAndGlyphs">AVDRLPEEHTCRVQLKLIPFYRSKQMEDILLYKETSGAGSF</text>
<rect x="286" y="236.10" width="3.6" height="3.6" fill="#8400f0" stroke="rgba(0,0,0,0.35)" stroke-width="0.3"/>
<text x="291.4" y="239.00" textLength="81.5" lengthAdjust="spacingAndGlyphs">PGGKBRVTEENADHVALVANWRLVTGRPQHEPLAGFN</text>
<rect x="375.2" y="236.10" width="3.6" height="3.6" fill="#ffb800" stroke="rgba(0,0,0,0.35)" stroke-width="0.3"/>
<text x="380.6" y="239.00" textLength="52.7" lengthAdjust="spacingAndGlyphs">RSPFTLVSRAGFBPGLSLPKTTABDPK</text>
<rect x="435.3" y="236.10" width="3.6" height="3.6" fill="#00ee00" stroke="rgba(0,0,0,0.35)" stroke-width="0.3"/>
<text x="440.4" y="239.00" textLength="40.3" lengthAdjust="spacingAndGlyphs">LLSGGRDLEEVDDLRANTEYT</text>
<rect x="483.8" y="236.10" width="3.6" height="3.6" fill="#0040e0" stroke="rgba(0,0,0,0.35)" stroke-width="0.3"/>
<text x="488.9" y="239.00" textLength="57.1" lengthAdjust="spacingAndGlyphs">LKKMLEVYEQDADLELEPVYEVGEGGGRE</text>
<rect x="252.1" y="242.40" width="3.6" height="3.6" fill="#f800a8" stroke="rgba(0,0,0,0.35)" stroke-width="0.3"/>
<text x="257.2" y="245.30" textLength="99.3" lengthAdjust="spacingAndGlyphs">LVEUQALVRNKKYLSESQGDMKAASDLSPRGTKSDLCLEFALPDYTDY</text>
<rect x="359.2" y="242.40" width="3.6" height="3.6" fill="#ff5a00" stroke="rgba(0,0,0,0.35)" stroke-width="0.3"/>
<text x="364.5" y="245.30" textLength="42.5" lengthAdjust="spacingAndGlyphs">DLKGSLPVPFVAESSVDSGGL</text>
<rect x="409.3" y="242.40" width="3.6" height="3.6" fill="#e4fa00" stroke="rgba(0,0,0,0.35)" stroke-width="0.3"/>
<text x="414.6" y="245.30" textLength="25.3" lengthAdjust="spacingAndGlyphs">IPSELISPNEHELE</text>
<rect x="443" y="242.40" width="3.6" height="3.6" fill="#00e800" stroke="rgba(0,0,0,0.35)" stroke-width="0.3"/>
<text x="448" y="245.30" textLength="29.7" lengthAdjust="spacingAndGlyphs">FSPNPNSHYQPEALS</text>
<rect x="480.2" y="242.40" width="3.6" height="3.6" fill="#00f48c" stroke="rgba(0,0,0,0.35)" stroke-width="0.3"/>
<text x="485.6" y="245.30" textLength="31.0" lengthAdjust="spacingAndGlyphs">YPNPGSGRSHEQALG</text>
<rect x="519.3" y="242.40" width="3.6" height="3.6" fill="#0a9cf0" stroke="rgba(0,0,0,0.35)" stroke-width="0.3"/>
<text x="524.8" y="245.30" textLength="21.2" lengthAdjust="spacingAndGlyphs">AQAFQSKKAYS</text>
<rect x="446.5" y="248.40" width="3.6" height="3.6" fill="#a0a8ee" stroke="rgba(0,0,0,0.35)" stroke-width="0.3"/>
<text x="451.9" y="251.30" textLength="57.4" lengthAdjust="spacingAndGlyphs">WSKQVGSGGLQELCLDFTVTEEFCGKWED</text>
<rect x="511.8" y="248.40" width="3.6" height="3.6" fill="#ee00ee" stroke="rgba(0,0,0,0.35)" stroke-width="0.3"/>
<text x="516.9" y="251.30" textLength="29.1" lengthAdjust="spacingAndGlyphs">SAKASSDTSLAAANG</text>
</g>
</svg></body></html>
